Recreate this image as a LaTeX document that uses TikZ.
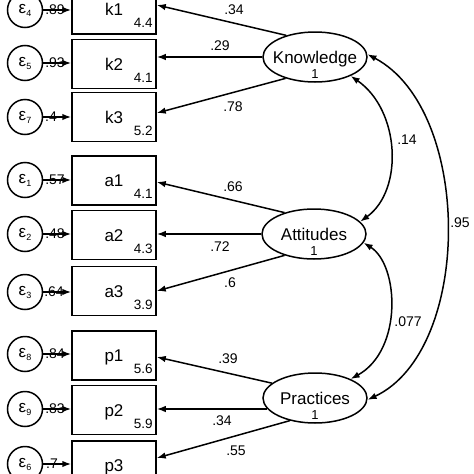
\documentclass[tikz,border=0pt]{standalone}
\usepackage{fontspec}
\setmainfont{Liberation Sans}
\usetikzlibrary{shapes.geometric,arrows.meta,calc}
\tikzset{
  obs/.style={draw, line width=1.5pt, minimum width=84pt, minimum height=49pt, inner sep=0pt,
    font=\fontsize{17}{17}\selectfont, text height=12pt, text depth=0pt},
  err/.style={draw, circle, line width=1.5pt, minimum size=35pt, inner sep=0pt,
    font=\fontsize{17}{17}\selectfont},
  lat/.style={draw, ellipse, line width=1.5pt, minimum width=104pt, minimum height=50pt, inner sep=0pt},
  latname/.style={anchor=base, inner sep=0pt, font=\fontsize{17}{17}\selectfont},
  latvar/.style={anchor=base, inner sep=0pt, font=\fontsize{13}{13}\selectfont},
  num/.style={anchor=base east, inner sep=0pt, font=\fontsize{13.5}{13.5}\selectfont},
  coef/.style={inner sep=0pt, font=\fontsize{14}{14}\selectfont},
  ld/.style={-{Latex[length=9pt,width=6.5pt]}, line width=1.5pt},
  cov/.style={{Latex[length=9pt,width=6.5pt]}-{Latex[length=9pt,width=6.5pt]}, line width=1.5pt}
}
\newcommand{\eps}[1]{ε\raisebox{-3pt}{\fontsize{9}{9}\selectfont #1}}
\begin{document}
\begin{tikzpicture}[x=1pt,y=-1pt]
\useasboundingbox (0,0) rectangle (474,474);
\clip (0,0) rectangle (474,474);
\fill[white] (0,0) rectangle (474,474);

% observed boxes
\node[obs] (k1) at (114,9.5) {k1};
\node[obs] (k2) at (114,64) {k2};
\node[obs] (k3) at (114,117) {k3};
\node[obs] (a1) at (114,180.5) {a1};
\node[obs] (a2) at (114,235) {a2};
\node[obs] (a3) at (114,291) {a3};
\node[obs] (p1) at (114,355.5) {p1};
\node[obs] (p2) at (114,410) {p2};
\node[obs] (p3) at (114,465.5) {p3};

% intercepts
\node[num] (k1n) at ([xshift=-4pt,yshift=7pt]k1.south east) {4.4};
\node[num] (k2n) at ([xshift=-4pt,yshift=7pt]k2.south east) {4.1};
\node[num] (k3n) at ([xshift=-4pt,yshift=7pt]k3.south east) {5.2};
\node[num] (a1n) at ([xshift=-4pt,yshift=7pt]a1.south east) {4.1};
\node[num] (a2n) at ([xshift=-4pt,yshift=7pt]a2.south east) {4.3};
\node[num] (a3n) at ([xshift=-4pt,yshift=7pt]a3.south east) {3.9};
\node[num] (p1n) at ([xshift=-4pt,yshift=7pt]p1.south east) {5.6};
\node[num] (p2n) at ([xshift=-4pt,yshift=7pt]p2.south east) {5.9};

% error terms
\node[err] (e4) at (25,10) {\eps{4}};
\node[err] (e5) at (25,63) {\eps{5}};
\node[err] (e7) at (25,117) {\eps{7}};
\node[err] (e1) at (25,180) {\eps{1}};
\node[err] (e2) at (25,234) {\eps{2}};
\node[err] (e3) at (25,292) {\eps{3}};
\node[err] (e8) at (25,354) {\eps{8}};
\node[err] (e9) at (25,409) {\eps{9}};
\node[err] (e6) at (25,464) {\eps{6}};

\foreach \e/\o in {e4/k1,e5/k2,e7/k3,e1/a1,e2/a2,e3/a3,e8/p1,e9/p2,e6/p3}
  \draw[ld] (\e.east) -- (\e.east -| \o.west);

\node[coef] (v4) at (55,10) {.89};
\node[coef] (v5) at (55,63) {.93};
\node[coef] (v7) at (51,117) {.4};
\node[coef] (v1) at (55,180) {.57};
\node[coef] (v2) at (55,234) {.48};
\node[coef] (v3) at (54,292) {.64};
\node[coef] (v8) at (55,354) {.84};
\node[coef] (v9) at (55,409) {.83};
\node[coef] (v6) at (52,464) {.7};

% latent variables
\node[lat] (K) at (315,57) {};
\node[lat] (A) at (314,234) {};
\node[lat] (P) at (315,398) {};
\node[latname] (Kt) at (315,63.5) {Knowledge};
\node[latvar] (Kv) at (315,78) {1};
\node[latname] (At) at (314,240) {Attitudes};
\node[latvar] (Av) at (314,255) {1};
\node[latname] (Pt) at (315,404.5) {Practices};
\node[latvar] (Pv) at (315,419) {1};

% loadings
\draw[ld] (K.143) -- ([yshift=4.5pt]k1.east);
\draw[ld] (K.west) -- (K.west -| k2.east);
\draw[ld] (K.216) -- ([yshift=4pt]k3.east);
\draw[ld] (A.144) -- ([yshift=-1.5pt]a1.east);
\draw[ld] (A.west) -- (A.west -| a2.east);
\draw[ld] (A.216) -- (a3.east);
\draw[ld] (P.161) -- ([yshift=-1.5pt]p1.east);
\draw[ld] (P.193) -- (P.193 -| p2.east);
\draw[ld] (P.222) -- ([yshift=7.5pt]p3.east);

\node[coef] (l1) at (234,10) {.34};
\node[coef] (l2) at (220,46) {.29};
\node[coef] (l3) at (233,107) {.78};
\node[coef] (l4) at (233,187) {.66};
\node[coef] (l5) at (220,247) {.72};
\node[coef] (l6) at (230,283) {.6};
\node[coef] (l7) at (228,359) {.39};
\node[coef] (l8) at (222,421) {.34};
\node[coef] (l9) at (236,451) {.55};

% covariances
\draw[cov] (K.332) .. controls (400,110) and (404,190) .. (A.15);
\draw[cov] (A.350) .. controls (399,265) and (403,350) .. (P.28);
\draw[cov] (K.3) .. controls (473,110) and (473,350) .. (P.358);

\node[coef] (c1) at (407,140) {.14};
\node[coef] (c2) at (408,322) {.077};
\node[coef] (c3) at (460,223) {.95};
\end{tikzpicture}
\end{document}
